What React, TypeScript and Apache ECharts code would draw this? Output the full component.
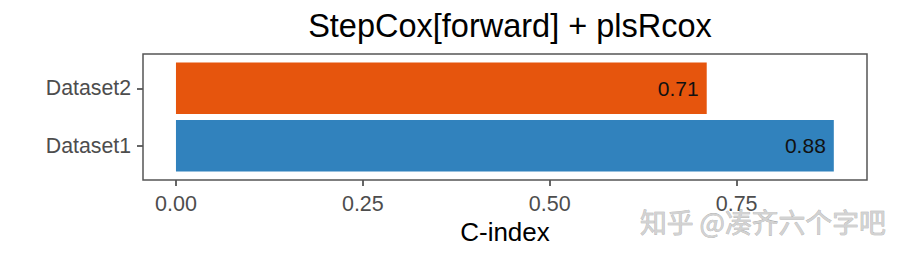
import React, { useEffect, useRef } from "react";
import * as echarts from "echarts";

const categories = ["Dataset1", "Dataset2"];
const values = [0.88, 0.71];
const barColors = ["#3182BD", "#E6550D"];
const tickValues = [0, 0.25, 0.5, 0.75];
const titleText = "StepCox[forward] + plsRcox";
const xName = "C-index";
const watermark = "知乎 @凑齐六个字吧";

const FONT = "'Liberation Sans', Arial, sans-serif";

export default function App() {
  const ref = useRef<HTMLDivElement>(null);
  useEffect(() => {
    if (!ref.current) return;
    const chart = echarts.init(ref.current, null, { renderer: "svg" });
    chart.setOption({
      animation: false,
      backgroundColor: "#ffffff",
      textStyle: { fontFamily: FONT },
      title: {
        text: titleText,
        left: 505,
        top: 21,
        textAlign: "center",
        textVerticalAlign: "middle",
        textStyle: { fontFamily: FONT, fontSize: 32.5, fontWeight: "normal", color: "#000" },
      },
      grid: { left: 143, right: 42, top: 59.7, bottom: 81.7, containLabel: false },
      xAxis: {
        type: "value",
        min: -0.0441,
        max: 0.9244,
        offset: 5.7,
        axisLine: { show: false, onZero: false },
        splitLine: { show: false },
        axisTick: {
          show: true,
          length: 6,
          customValues: tickValues,
          lineStyle: { color: "#333333", width: 1.5 },
        },
        axisLabel: {
          customValues: tickValues,
          margin: 13,
          fontSize: 21.5,
          color: "#4D4D4D",
          fontFamily: FONT,
          formatter: (v: number) => v.toFixed(2),
        },
      },
      yAxis: {
        type: "category",
        position: "left",
        data: categories,
        axisLine: { show: false, onZero: false },
        axisTick: { show: true, length: 6, alignWithLabel: true, lineStyle: { color: "#333333", width: 1.5 } },
        axisLabel: { margin: 12, fontSize: 21.3, color: "#4D4D4D", fontFamily: FONT },
        splitLine: { show: false },
      },
      series: [
        {
          type: "bar",
          barWidth: 51.5,
          data: values.map((v, i) => ({ value: v, itemStyle: { color: barColors[i] } })),
          label: {
            show: true,
            position: "insideRight",
            distance: 8,
            fontSize: 21,
            color: "#111111",
            fontFamily: FONT,
            formatter: (p: any) => String(p.value),
          },
        },
      ],
      graphic: [
        {
          type: "rect",
          shape: { x: 143, y: 54, width: 724, height: 126 },
          style: { fill: "none", stroke: "#555555", lineWidth: 1.5 },
          z: 10,
        },
        {
          type: "text",
          x: 505,
          y: 232,
          style: {
            text: xName,
            font: `26px ${FONT}`,
            fill: "#000",
            textAlign: "center",
            textVerticalAlign: "middle",
          },
        },
        {
          type: "text",
          x: 640,
          y: 221,
          z: 100,
          style: {
            text: watermark,
            font: `26.8px 'Noto Sans CJK SC', sans-serif`,
            fill: "#d2d2d2",
            stroke: "#a8a8a8",
            lineWidth: 0.6,
            textAlign: "left",
            textVerticalAlign: "middle",
          },
        },
      ],
    });
    return () => chart.dispose();
  }, []);
  return (
    <div
      ref={ref}
      style={{ position: "absolute", left: 0, top: 0, width: 909, height: 256 }}
    />
  );
}
